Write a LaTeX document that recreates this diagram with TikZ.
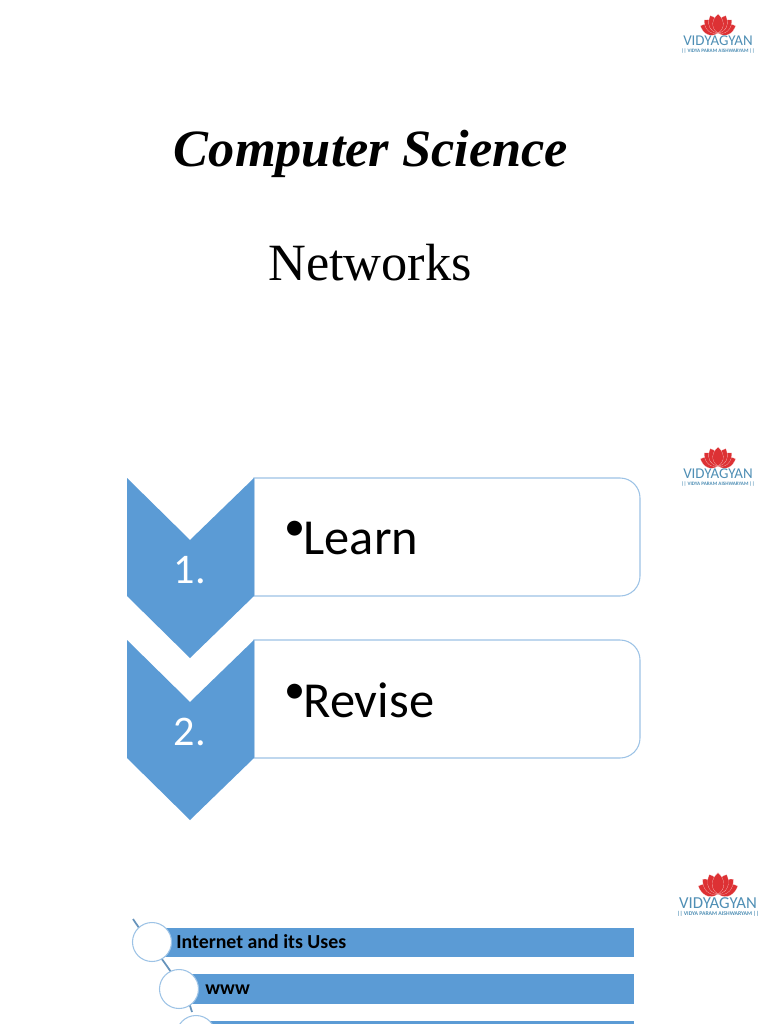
\documentclass[tikz,border=0pt]{standalone}
\usepackage{fontspec}
\setmainfont{Liberation Serif}
\newfontfamily\bodyfont{Carlito}
\usetikzlibrary{calc}
\definecolor{barblue}{HTML}{5B9BD5}
\definecolor{edgeblue}{HTML}{9DC3E6}
\definecolor{lotusred}{HTML}{DD3134}
\definecolor{logoblue}{HTML}{4F8FB5}
\tikzset{
	itemtext/.style={anchor=west, inner sep=0pt, font=\bodyfont\fontsize{28.7}{30}\selectfont},
	numtext/.style={inner sep=0pt, text=white, font=\bodyfont\fontsize{24}{26}\selectfont},
	bartext/.style={anchor=west, inner sep=0pt, font=\bodyfont\bfseries\fontsize{11.3}{13}\selectfont},
	ringdot/.style={draw=edgeblue, fill=white, line width=0.6pt},
	petal/.style={fill=lotusred, draw=white, line width=0.05pt}
}
% one chevron with its rounded box, #1 is the top edge
\def\stepblock#1{
	\draw[draw=edgeblue, fill=white, line width=0.6pt] (254, #1) [rounded corners=0.4cm] -- (640, #1) -- (640, #1+118) -- (600, #1+118) [sharp corners] -- (254, #1+118) -- cycle;
	\fill[barblue] (127, #1) -- (190, #1+62) -- (254, #1) -- (254, #1+118) -- (190, #1+180) -- (127, #1+118) -- cycle;
}
% logo, #1 and #2 give the foot of the flower, #3 the scale
\def\vidyalogo(#1,#2)(#3){
	\begin{scope}[shift={(#1, #2)}, scale=#3, transform shape]
		\foreach \a in {-68, 68, -46, 46, -24, 24, 0}
			\fill[petal, rotate=\a] (0, 0) .. controls (-8, -5) and (-6, -14) .. (0, -19) .. controls (6, -14) and (8, -5) .. (0, 0);
		\node[inner sep=0pt, text=logoblue, font=\bodyfont\fontsize{8.5}{9}\selectfont] at (0, 8) {VIDYAGYAN};
		\node[inner sep=0pt, text=logoblue, font=\bodyfont\bfseries\fontsize{2.9}{3}\selectfont] at (0, 18) {|| VIDYA PARAM AISHWARYAM ||};
	\end{scope}
}

\begin{document}
\begin{tikzpicture}[x=0.02cm, y=-0.02cm]
		%%%%% START %%%%%
		\useasboundingbox (0, 0) rectangle (768, 1024);
		\clip (0, 0) rectangle (768, 1024);
		\fill[white] (0, 0) rectangle (768, 1024);
		
		\vidyalogo(718, 33)(1)
		\vidyalogo(718, 466)(1)
		\vidyalogo(718, 894)(1.12)
		
		\node[inner sep=0pt, font=\bfseries\itshape\fontsize{29.8}{32}\selectfont] (title) at (371, 154) {Computer Science};
		\node[inner sep=0pt, font=\fontsize{29.8}{32}\selectfont] (subject) at (370, 263) {Networks};
		
		\stepblock{478}
		\stepblock{640}
		
		\node[numtext] (one) at (190, 570) {1.};
		\node[itemtext] (learn) at (284, 538) {\raisebox{7.5pt}{\fontsize{24}{26}\selectfont•}\hspace{-1pt}Learn};
		\node[numtext] (two) at (190, 732) {2.};
		\node[itemtext] (revise) at (284, 700) {\raisebox{7.5pt}{\fontsize{24}{26}\selectfont•}\hspace{-1pt}Revise};
		
		\fill[barblue] (160, 928) rectangle (634, 957);
		\fill[barblue] (185, 974) rectangle (634, 1004);
		\fill[barblue] (205, 1021) rectangle (634, 1050);
		
		\draw[line width=1pt, color=barblue!70!gray] (133, 919) .. controls (150, 945) and (185, 985) .. (192, 1012);
		
		\draw[ringdot] (152, 942) circle (19.5);
		\draw[ringdot] (179, 989) circle (19.5);
		\draw[ringdot] (196, 1035) circle (19.5);
		
		\node[bartext] (uses) at (176, 942) {Internet and its Uses};
		\node[bartext] (www) at (205, 990) {www};
		
		%%%%% END %%%%%
	\end{tikzpicture}
\end{document}
